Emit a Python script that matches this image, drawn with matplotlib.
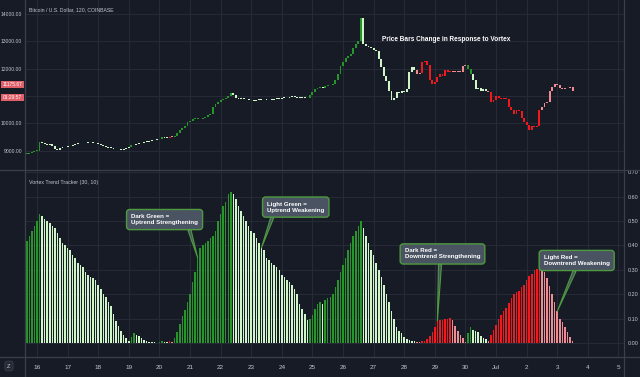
import matplotlib
matplotlib.use("Agg")
import matplotlib.pyplot as plt
import matplotlib.dates as mdates
import pandas as pd
from matplotlib.lines import Line2D
from matplotlib.ticker import FixedLocator, FuncFormatter

plt.rcParams["font.family"] = ["Liberation Sans", "DejaVu Sans"]

# 2h bars, BTC/USD on Coinbase
times = pd.date_range("2019-06-15 16:00", periods=215, freq="2h")

first_open = 8880
closes = [
    8900, 8920, 8960, 9000, 9010, 9320, 9290, 9250, 9200, 9260,
    9180, 9080, 9020, 9100, 9130, 9150, 9180, 9170, 9200, 9250,
    9280, 9300, 9270, 9290, 9310, 9330, 9300, 9280, 9250, 9200,
    9180, 9150, 9120, 9100, 9080, 9050, 9060, 9040, 9080, 9100,
    9150, 9200, 9230, 9250, 9280, 9300, 9320, 9340, 9360, 9390,
    9400, 9420, 9450, 9500, 9480, 9470, 9520, 9500, 9560, 9650,
    9750, 9850, 9900, 10050, 10100, 10150, 10200, 10180, 10150, 10200,
    10250, 10300, 10350, 10600, 10700, 10800, 10850, 10900, 10950, 11000,
    11100, 11050, 10950, 10900, 10950, 10900, 10880, 10850, 10870, 10830,
    10860, 10880, 10850, 10870, 10900, 10880, 10860, 10900, 10920, 10890,
    10930, 10950, 10920, 10960, 10990, 10960, 10950, 10930, 10960, 10940,
    10920, 11050, 11150, 11250, 11300, 11350, 11300, 11380, 11400, 11420,
    11450, 11600, 11800, 12100, 12250, 12400, 12450, 12550, 12750, 12900,
    13000, 13850, 12900, 12850, 12800, 12750, 12700, 12650, 12350, 12050,
    11750, 11550, 11200, 10850, 10950, 11150, 11100, 11200, 11150, 11250,
    11900, 12050, 11950, 11800, 11850, 12250, 12300, 12150, 11600, 11450,
    11500, 11700, 11800, 11750, 11950, 11900, 11880, 11900, 11880, 11920,
    11900, 12100, 12150, 12000, 11800, 11600, 11250, 11300, 11200, 11250,
    11200, 11150, 10800, 10850, 11000, 10950, 10900, 10950, 10900, 10600,
    10500, 10350, 10500, 10450, 10200, 10050, 9950, 9780, 9900, 9870,
    9920, 10500, 10600, 10750, 10800, 11200, 11350, 11450, 11400, 11300,
    11250, 11300, 11280, 11350, 11175.67,
]

vortex = [
    0.42, 0.44, 0.46, 0.48, 0.50, 0.53, 0.52, 0.51, 0.50, 0.49,
    0.48, 0.47, 0.45, 0.43, 0.41, 0.40, 0.39, 0.38, 0.36, 0.35,
    0.33, 0.32, 0.31, 0.29, 0.28, 0.27, 0.268, 0.26, 0.24, 0.22,
    0.20, 0.19, 0.17, 0.15, 0.12, 0.09, 0.07, 0.05, 0.035, 0.02,
    0.01, 0.025, 0.04, 0.035, 0.03, 0.02, 0.012, 0.008, 0.005, 0.004,
    0.003, 0.002, 0.006, 0.01, 0.005, 0.004, 0.008, 0.005, 0.02, 0.045,
    0.08, 0.11, 0.135, 0.17, 0.20, 0.25, 0.29, 0.35, 0.39, 0.40,
    0.41, 0.42, 0.43, 0.44, 0.46, 0.50, 0.53, 0.56, 0.58, 0.61,
    0.62, 0.61, 0.59, 0.56, 0.54, 0.52, 0.50, 0.48, 0.46, 0.45,
    0.43, 0.41, 0.39, 0.38, 0.35, 0.34, 0.33, 0.32, 0.31, 0.30,
    0.28, 0.27, 0.26, 0.25, 0.24, 0.22, 0.20, 0.16, 0.14, 0.12,
    0.095, 0.10, 0.115, 0.14, 0.16, 0.17, 0.16, 0.175, 0.185, 0.19,
    0.20, 0.23, 0.26, 0.29, 0.32, 0.35, 0.38, 0.41, 0.44, 0.46,
    0.48, 0.50, 0.47, 0.44, 0.41, 0.38, 0.36, 0.33, 0.30, 0.27,
    0.24, 0.20, 0.17, 0.13, 0.10, 0.065, 0.05, 0.04, 0.025, 0.018,
    0.014, 0.01, 0.009, 0.006, 0.005, 0.008, 0.01, 0.017, 0.03, 0.045,
    0.065, 0.09, 0.093, 0.095, 0.097, 0.10, 0.102, 0.095, 0.07, 0.05,
    0.035, 0.02, 0.005, 0.04, 0.065, 0.055, 0.05, 0.045, 0.03, 0.022,
    0.015, 0.01, 0.035, 0.055, 0.075, 0.10, 0.115, 0.13, 0.145, 0.165,
    0.185, 0.20, 0.21, 0.215, 0.23, 0.24, 0.26, 0.275, 0.285, 0.30,
    0.305, 0.315, 0.31, 0.29, 0.265, 0.235, 0.20, 0.17, 0.13, 0.10,
    0.085, 0.065, 0.045, 0.025, 0.008,
]

# bar index where each trend direction starts
trend_starts = [(0, "up"), (56, "down"), (58, "up"), (153, "down"), (173, "up"), (181, "down")]

price_ticks = [9000, 10000, 11000, 12000, 13000, 14000]
hidden_price_ticks = [11000]  # covered by the last-price labels
vortex_ticks = [0.0, 0.1, 0.2, 0.3, 0.4, 0.5, 0.6, 0.7]

BG = "#171b26"
GRID = "#272b37"
LINE = "#3b3f4b"
TXT = "#c3c6ce"
DARK_GREEN = "#26962a"
LIGHT_GREEN = "#d0f5c8"
DARK_RED = "#f2191c"
LIGHT_RED = "#ee8c92"

trend = []
ends = [s for s, _ in trend_starts[1:]] + [len(vortex)]
for (start, direction), end in zip(trend_starts, ends):
    trend += [direction] * (end - start)

colors = []
for i, v in enumerate(vortex):
    rising = i == 0 or v > vortex[i - 1]
    if trend[i] == "up":
        colors.append(DARK_GREEN if rising else LIGHT_GREEN)
    else:
        colors.append(DARK_RED if rising else LIGHT_RED)

opens = [first_open] + closes[:-1]
bottoms = [min(o, c) for o, c in zip(opens, closes)]
heights = [max(abs(c - o), 25) for o, c in zip(opens, closes)]

x = mdates.date2num(times.to_pydatetime())
bar_w = 1 / 12

W, H = 640, 377


def px_box(x0, y0, x1, y1):
    return [x0 / W, 1 - y1 / H, (x1 - x0) / W, (y1 - y0) / H]


fig = plt.figure(figsize=(W / 100, H / 100), dpi=100, facecolor=BG)
ax_p = fig.add_axes(px_box(25, 0, 624, 170))
ax_v = fig.add_axes(px_box(25, 171, 624, 357), sharex=ax_p)

for ax in (ax_p, ax_v):
    ax.set_facecolor(BG)
    for s in ax.spines.values():
        s.set_visible(False)
    ax.grid(True, color=GRID, lw=0.7)
    ax.set_axisbelow(True)

ax_p.bar(x, heights, bottom=bottoms, width=bar_w * 0.75, color=colors, linewidth=0)
ax_v.bar(x, vortex, width=bar_w * 0.6, color=colors, linewidth=0)

ax_p.set_xlim(mdates.date2num(pd.Timestamp("2019-06-15 14:36").to_pydatetime()),
              mdates.date2num(pd.Timestamp("2019-07-05 04:20").to_pydatetime()))
ax_p.set_ylim(8300, 14515)
ax_v.set_ylim(-0.057, 0.705)

days = pd.date_range("2019-06-16", "2019-07-05", freq="D")
ax_v.xaxis.set_major_locator(FixedLocator(mdates.date2num(days.to_pydatetime())))


def day_label(val, pos):
    d = mdates.num2date(val)
    return "Jul" if d.day == 1 else str(d.day)


ax_v.xaxis.set_major_formatter(FuncFormatter(day_label))
ax_p.tick_params(axis="x", labelbottom=False, length=0)
ax_v.tick_params(axis="x", length=0, pad=6, labelsize=4.6, colors=TXT)

ax_p.yaxis.set_major_locator(FixedLocator(price_ticks))
ax_p.yaxis.set_major_formatter(
    FuncFormatter(lambda v, p: "" if v in hidden_price_ticks else f"{v:.2f}"))
ax_p.tick_params(axis="y", length=0, pad=2, labelsize=3.6, colors=TXT)

ax_v.yaxis.tick_right()
ax_v.yaxis.set_major_locator(FixedLocator(vortex_ticks))
ax_v.yaxis.set_major_formatter(FuncFormatter(lambda v, p: f"{v:.2f}"))
ax_v.tick_params(axis="y", length=0, pad=3, labelsize=3.9, colors=TXT)

# panel separators
for xs, ys in [((0, W), (170, 170)), ((0, W), (357, 357)), ((25, 25), (0, H)), ((624, 624), (0, H))]:
    fig.add_artist(Line2D([xs[0] / W, xs[1] / W], [1 - ys[0] / H, 1 - ys[1] / H],
                          transform=fig.transFigure, color=LINE, lw=0.9))

ax_p.text(0.006, 0.94, "Bitcoin / U.S. Dollar, 120, COINBASE", transform=ax_p.transAxes,
          fontsize=3.7, color=TXT, va="center")
ax_v.text(0.006, 0.94, "Vortex Trend Tracker (30, 10)", transform=ax_v.transAxes,
          fontsize=3.8, color=TXT, va="center")
ax_p.text(0.703, 0.765, "Price Bars Change in Response to Vortex", transform=ax_p.transAxes,
          fontsize=4.7, color="white", fontweight="bold", ha="center", va="center")

# last price / countdown labels
label_box = dict(boxstyle="square,pad=0.3", fc="#e0606a", ec="none")
fig.text(12.5 / W, 1 - 84.5 / H, f"{closes[-1]:.2f}", ha="center", va="center",
         fontsize=3.5, color="white", bbox=label_box)
fig.text(12.5 / W, 1 - 97.5 / H, "01:29:57", ha="center", va="center",
         fontsize=3.5, color="white", bbox=label_box)
fig.text(9 / W, 1 - 366 / H, "Z", ha="center", va="center", fontsize=4.2, color=TXT,
         bbox=dict(boxstyle="round,pad=0.4", fc="#252935", ec=LINE, lw=0.6))

callouts = [
    ("Dark Green =\nUptrend Strengthening", 67, (0.233, 0.739), (0.85, 0.0)),
    ("Light Green =\nUptrend Weakening", 92, (0.452, 0.806), (0.12, 0.0)),
    ("Dark Red =\nDowntrend Strengthening", 161, (0.697, 0.554), (0.47, 0.0)),
    ("Light Red =\nDowntrend Weakening", 208, (0.921, 0.519), (0.5, 0.0)),
]
for text, idx, pos, rel in callouts:
    ax_v.annotate(
        text, xy=(x[idx], vortex[idx]), xytext=pos, textcoords="axes fraction",
        ha="center", va="center", fontsize=4.4, fontweight="bold", color="white",
        linespacing=1.25, multialignment="left",
        bbox=dict(boxstyle="round,pad=0.75,rounding_size=0.5", fc="#4a5362", ec="#4f9a3f", lw=1.0),
        arrowprops=dict(arrowstyle="wedge,tail_width=0.5,shrink_factor=0.5", fc="#4a5362",
                        ec="#4f9a3f", lw=0.8, relpos=rel, shrinkA=0, shrinkB=0),
    )

fig.savefig("out.png", dpi=100, facecolor=BG)
